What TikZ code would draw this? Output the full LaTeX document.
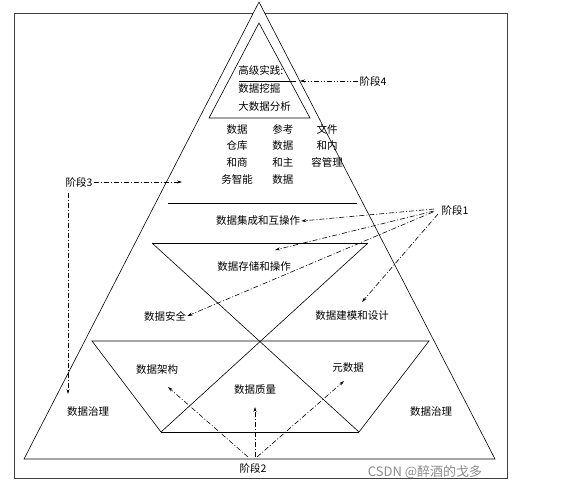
\documentclass[tikz,border=0pt]{standalone}
\usepackage{fontspec}
\newfontfamily\cjk{Noto Sans CJK SC}
\usetikzlibrary{arrows.meta}
\begin{document}
\begin{tikzpicture}[x=1pt,y=-1pt,line width=0.6pt,
  txt/.style={font=\cjk\fontsize{10.5}{12}\selectfont,inner sep=1pt},
  col/.style={font=\cjk\fontsize{10.5}{16.7}\selectfont,inner sep=0pt,anchor=north},
  dd/.style={dash pattern=on 5pt off 2pt on 1pt off 2pt,-{Stealth[length=5pt,width=3pt]}},
  ddd/.style={dash pattern=on 5pt off 2pt on 1pt off 2pt on 1pt off 2pt,-{Stealth[length=5pt,width=3pt]}}]
\useasboundingbox (0,0) rectangle (567,490);
% frame and outer pyramid
\draw[black!75] (14,13) rectangle (507,478);
\draw[fill=white] (259,2) -- (24,459) -- (495,459) -- cycle;
% top triangle
\draw (259,23) -- (209,118) -- (310,118) -- cycle;
\node[txt,align=left,anchor=north west,font=\cjk\fontsize{10.5}{18}\selectfont] (top) at (237,64) {高级实践:\\数据挖掘\\大数据分析};
\draw (239,81) -- (296,81);
\node[txt] (s4) at (373,81) {阶段4};
\draw[ddd] (s4.west) -- (300,81);
% columns
\node[col,align=center] (c1) at (237,124) {数据\\仓库\\和商\\务智能};
\node[col,align=left,anchor=north west] (c2) at (272,124) {参考\\数据\\和主\\数据};
\node[col,align=center] (c3) at (327,124) {文件\\和内\\容管理};
\draw (168,203) -- (357,203);
% stage 3
\node[txt] (s3) at (79,182) {阶段3};
\coordinate (s3a) at (182,182);
\draw[dd] (s3.east) -- (s3a);
\coordinate (s3b) at (68,193);
\coordinate (s3c) at (68,394);
\draw[dd] (s3b) -- (s3c);
% middle hourglass
\draw (152,243) -- (368,243);
\draw (152,243) -- (359,432);
\draw (368,243) -- (161,432);
\draw (161,432) -- (359,432);
\draw (161,432) -- (92,341) -- (429,341) -- (359,432);
% labels
\node[txt] (int) at (258,221) {数据集成和互操作};
\node[txt] (sto) at (254,267) {数据存储和操作};
\node[txt] (sec) at (165,316) {数据安全};
\node[txt] (mod) at (352,316) {数据建模和设计};
\node[txt] (arc) at (157,370) {数据架构};
\node[txt] (meta) at (348,368) {元数据};
\node[txt] (qual) at (255,390) {数据质量};
\node[txt] (gl) at (88,412) {数据治理};
\node[txt] (gr) at (431,412) {数据治理};
% stage 1
\node[txt] (s1) at (455,210) {阶段1};
\coordinate (p1a) at (434,209);
\coordinate (p1b) at (434,211);
\coordinate (p1c) at (433,212);
\coordinate (p1d) at (438,214);
\draw[dd] (p1a) -- (int.east);
\draw[dd] (p1b) -- (275,250);
\draw[dd] (p1c) -- (sec.east);
\draw[dd] (p1d) -- (362,302);
% stage 2
\node[txt] (s2) at (253,468) {阶段2};
\coordinate (p2a) at (248,457);
\coordinate (p2b) at (255,457);
\coordinate (p2c) at (257,457);
\draw[dd] (p2a) -- (168,387);
\draw[dd] (p2b) -- (255,407);
\draw[dd] (p2c) -- (344,381);
% watermark
\node[font=\cjk\fontsize{13}{14}\selectfont,text=black!45,inner sep=0pt] (wm) at (425,472) {CSDN @醉酒的戈多};
\end{tikzpicture}
\end{document}
